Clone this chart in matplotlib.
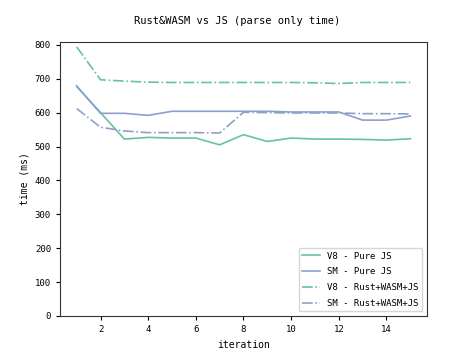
import numpy as np
import matplotlib
matplotlib.use('Agg')
import matplotlib.pyplot as plt

iterations = list(range(1, 16))
v8_pure = [677, 600, 522, 527, 525, 525, 505, 535, 515, 525, 522, 522, 521, 519, 523]
sm_pure = [679, 598, 598, 592, 604, 604, 604, 604, 604, 602, 602, 602, 578, 578, 590]
v8_wasm = [794, 697, 693, 690, 689, 689, 689, 689, 689, 689, 688, 686, 689, 689, 689]
sm_wasm = [612, 557, 546, 541, 541, 541, 540, 601, 600, 599, 599, 599, 597, 597, 596]
labels = ['V8 - Pure JS', 'SM - Pure JS', 'V8 - Rust+WASM+JS', 'SM - Rust+WASM+JS']

green = '#66c2a5'
purple = '#8da0cb'

plt.rcParams['font.family'] = ['DejaVu Sans Mono']

fig = plt.figure(figsize=(4.74, 3.55), dpi=100)
ax = fig.add_axes([0.1266, 0.1099, 0.7742, 0.7718])

ax.plot(iterations, v8_pure, '-', color=green, lw=1.2, label=labels[0])
ax.plot(iterations, sm_pure, '-', color=purple, lw=1.2, label=labels[1])
ax.plot(iterations, v8_wasm, '-.', color=green, lw=1.2, label=labels[2])
ax.plot(iterations, sm_wasm, '-.', color=purple, lw=1.2, label=labels[3])

ax.set_ylim(bottom=0)
ax.set_xticks([2, 4, 6, 8, 10, 12, 14])
ax.tick_params(labelsize=6.5, length=3)
for s in ax.spines.values():
    s.set_color('#333333')

ax.set_xlabel('iteration', fontsize=7)
ax.set_ylabel('time (ms)', fontsize=7)
fig.suptitle('Rust&WASM vs JS (parse only time)', fontsize=7.5, y=0.955)

ax.legend(loc='lower right', fontsize=6.5, labelspacing=0.75)

fig.savefig('out.png', dpi=100)
